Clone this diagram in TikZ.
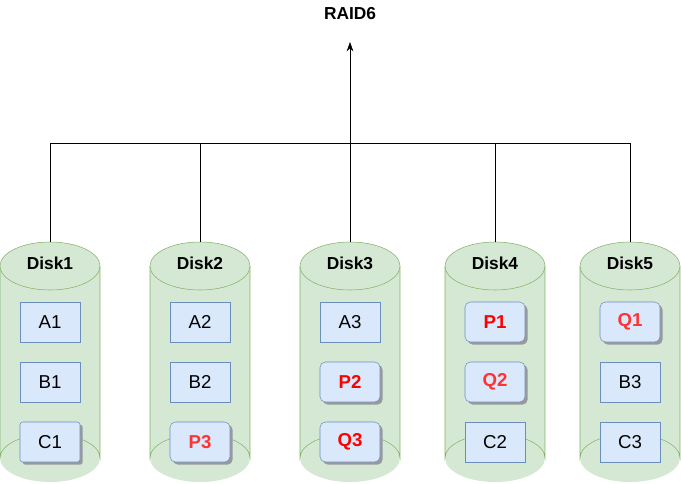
\documentclass[tikz,border=0pt]{standalone}
\usepackage{fontspec}
\setmainfont{Liberation Sans}
\usetikzlibrary{shapes.geometric,shadows,arrows.meta}
\definecolor{cylf}{HTML}{D5E8D4}\definecolor{cyld}{HTML}{82B366}
\definecolor{boxf}{HTML}{DAE8FC}\definecolor{boxd}{HTML}{6C8EBF}
\definecolor{redt}{HTML}{FF0000}\definecolor{redl}{HTML}{FF3333}
\begin{document}
\begin{tikzpicture}[x=0.75pt,y=-0.75pt,
  blk/.style={draw=boxd,fill=boxf,minimum width=45pt,minimum height=30pt,inner sep=0,font=\fontsize{14}{16}\selectfont},
  par/.style={blk,rounded corners=4pt,drop shadow={shadow xshift=2pt,shadow yshift=-2pt,fill=black!40,opacity=1},text=redt,font=\fontsize{14}{16}\selectfont\bfseries},
  lbl/.style={font=\fontsize{13}{15}\selectfont\bfseries}]
\useasboundingbox (0,0) rectangle (681,483);
\foreach \n/\cx in {1/50,2/200,3/350,4/495,5/630}{
  \fill[cylf] (\cx-50,266) rectangle (\cx+50,458);
  \fill[cylf] (\cx,458) ellipse [x radius=50,y radius=24];
  \draw[cyld] (\cx-50,266) -- (\cx-50,458) arc[start angle=180,end angle=360,x radius=50,y radius=24] -- (\cx+50,266);
  \draw[cyld,fill=cylf] (\cx,266) ellipse [x radius=50,y radius=24];
  \coordinate (t\n) at (\cx,242);
  \node[lbl] (d\n) at (\cx,263) {Disk\n};
}
\node[blk] (a1) at (50,322) {A1};
\node[blk] (b1) at (50,382) {B1};
\node[blk,rounded corners=2pt,drop shadow={shadow xshift=2pt,shadow yshift=-2pt,fill=black!40,opacity=1}] (c1) at (50,442) {C1};
\node[blk] (a2) at (200,322) {A2};
\node[blk] (b2) at (200,382) {B2};
\node[par,text=redl] (p3) at (200,442) {P3};
\node[blk] (a3) at (350,322) {A3};
\node[par] (p2) at (350,382) {P2};
\node[par] (q3) at (350,442) {Q3};
\node[par] (p1) at (495,322) {P1};
\node[par,text=redl] (q2) at (495,382) {Q2};
\node[blk] (c2) at (495,442) {C2};
\node[par,text=redl] (q1) at (630,322) {Q1};
\node[blk] (b3) at (630,382) {B3};
\node[blk] (c3) at (630,442) {C3};
\node[lbl] (raid) at (350,14) {RAID6};
\coordinate (top) at (350,42);
\coordinate (j) at (350,143);
\draw (t1) -- (50,143) -- (630,143) -- (t5);
\foreach \n in {2,3,4}{\draw (t\n) -- (t\n |- j);}
\draw[-{Stealth[length=7pt,width=5pt]}] (j) -- (top);
\end{tikzpicture}
\end{document}
